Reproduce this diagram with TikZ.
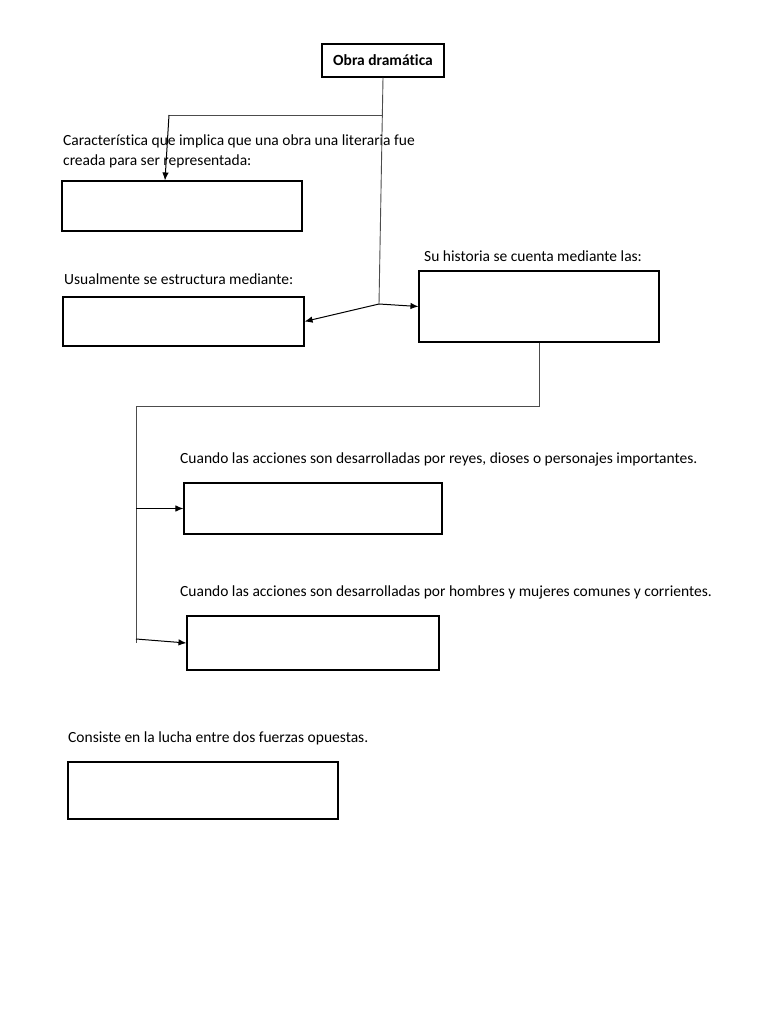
\documentclass[tikz,border=0pt]{standalone}
\usepackage{fontspec}
\setmainfont{Carlito}[Ligatures=NoCommon]
\usetikzlibrary{arrows.meta}

\begin{document}
\begin{tikzpicture}[x=1pt, y=-1pt,
	box/.style={draw, line width=1.1pt, inner sep=0pt},
	wire/.style={draw=black!70, line width=0.9pt},
	arr/.style={draw=black, line width=1pt, -{Latex[length=8pt, width=6.5pt]}},
	txt/.style={anchor=base west, inner sep=0pt, align=left, font=\fontsize{15.5}{20}\selectfont}]
	\useasboundingbox[fill=white] (0,0) rectangle (768,1024);
	% Boxes:
	\node[box, minimum width=122, minimum height=33, font=\fontsize{15.5}{20}\selectfont\bfseries] (obra) at (383,60.5){Obra dramática};
	\node[box, minimum width=240, minimum height=50] (caract) at (182,206){};
	\node[box, minimum width=241, minimum height=49] (estruct) at (183.5,321.5){};
	\node[box, minimum width=240, minimum height=71] (historia) at (539,306.5){};
	\node[box, minimum width=258, minimum height=51] (tragedia) at (313,508.5){};
	\node[box, minimum width=252, minimum height=54] (comedia) at (313,643){};
	\node[box, minimum width=270, minimum height=57] (conflicto) at (203,790.5){};
	% Texts:
	\node[txt] (lcaract) at (63,166){Característica que implica que una obra una literaria fue\\creada para ser representada:};
	\node[txt] (lestruct) at (64,284){Usualmente se estructura mediante:};
	\node[txt] (lhistoria) at (424,261){Su historia se cuenta mediante las:};
	\node[txt] (ltragedia) at (180,463){Cuando las acciones son desarrolladas por reyes, dioses o personajes importantes.};
	\node[txt] (lcomedia) at (180,596){Cuando las acciones son desarrolladas por hombres y mujeres comunes y corrientes.};
	\node[txt] (lconflicto) at (68,742){Consiste en la lucha entre dos fuerzas opuestas.};
	% Wires:
	\coordinate (top) at (383,115);
	\coordinate (bend) at (169,115);
	\coordinate (split) at (379,304);
	\coordinate (rail) at (136,406);
	\coordinate (railend) at (136,643);
	\draw[wire] (obra.south) -- (split);
	\draw[wire] (top) -- (bend);
	\draw[arr] (bend) -- ([xshift=-17pt]caract.north);
	\draw[arr] (split) -- (estruct.east);
	\draw[arr] (split) -- (historia.west);
	\draw[wire] (historia.south) |- (rail) -- (railend);
	\draw[arr] (rail |- tragedia.west) -- (tragedia.west);
	\draw[arr] ([yshift=4pt]rail |- comedia.west) -- (comedia.west);
\end{tikzpicture}
\end{document}
